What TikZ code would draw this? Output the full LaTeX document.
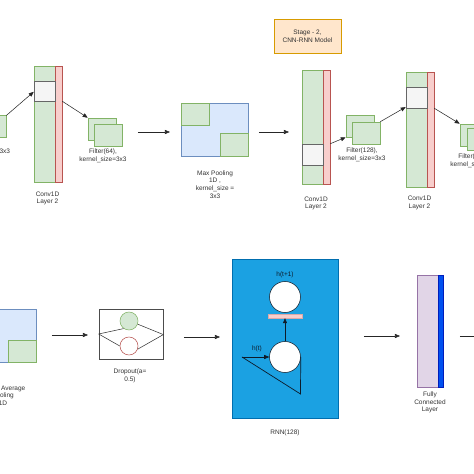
\documentclass[tikz,border=0pt]{standalone}
\usepackage{fontspec}
\setmainfont{Liberation Sans}
\usetikzlibrary{arrows.meta}
\definecolor{grfill}{HTML}{D5E8D4}
\definecolor{grline}{HTML}{82B366}
\definecolor{pkfill}{HTML}{F8CECC}
\definecolor{pkline}{HTML}{B85450}
\definecolor{blfill}{HTML}{DAE8FC}
\definecolor{blline}{HTML}{6C8EBF}
\definecolor{orfill}{HTML}{FFE6CC}
\definecolor{orline}{HTML}{D79B00}
\definecolor{wtfill}{HTML}{F5F5F5}
\definecolor{wtline}{HTML}{666666}
\definecolor{pufill}{HTML}{E1D5E7}
\definecolor{puline}{HTML}{9673A6}
\definecolor{dbfill}{HTML}{0050EF}
\definecolor{dbline}{HTML}{001DBC}
\definecolor{rnnfill}{HTML}{1BA1E2}
\definecolor{rnnline}{HTML}{006EAF}
\definecolor{cell}{HTML}{0D1B2A}
\definecolor{txt}{HTML}{333333}
\newcommand{\lblfont}{\fontsize{3.7}{4.4}\selectfont}

\begin{document}
\begin{tikzpicture}[scale=0.2]
\tikzstyle{every node}+=[inner sep=0pt, font=\lblfont, text=txt]
\tikzstyle{lay}=[draw=grline, fill=grfill, line width=0.3pt, minimum width=4.2mm]
\tikzstyle{bias}=[draw=pkline, fill=pkfill, line width=0.3pt, minimum width=1.3mm, anchor=west]
\tikzstyle{win}=[draw=wtline, fill=wtfill, line width=0.3pt, minimum width=4.2mm, minimum height=4.2mm]
\tikzstyle{filt}=[draw=grline, fill=grfill, line width=0.3pt, minimum width=5.6mm, minimum height=4.4mm]
\tikzstyle{pool}=[draw=blline, fill=blfill, line width=0.3pt, minimum width=13.4mm, minimum height=10.6mm]
\tikzstyle{unit}=[circle, line width=0.3pt, minimum size=3.6mm]
\tikzstyle{state}=[circle, draw=cell, fill=white, line width=0.3pt, minimum size=6.2mm]
\tikzstyle{lbl}=[align=center]
\tikzstyle{arr}=[draw=black!85, line width=0.3pt, -{Triangle[length=1mm,width=0.8mm]}]
\tikzstyle{wire}=[draw=black!80, line width=0.3pt]
\useasboundingbox (0,0) rectangle (47.4,-47.4);
\fill [white] (0,0) rectangle (47.4,-47.4);
\node [filt] (f0) at (-0.8,-12.65) {};
\node [lbl] (f0t) at (-1.35,-14.8) {Filter(32),\\kernel\_size=3x3};
\node [lay, minimum height=23.2mm] (c1) at (4.45,-12.4) {};
\node [bias, minimum height=23.2mm] (p1) at (c1.east) {};
\node [win, minimum height=4mm] (w1) at (4.45,-9.1) {};
\node [lbl] (c1t) at (4.75,-19.85) {Conv1D\\Layer 2};
\node [filt] (f64b) at (10.2,-12.9) {};
\node [filt] (f64f) at (10.8,-13.5) {};
\node [lbl] (f64t) at (10.3,-15.6) {Filter(64),\\kernel\_size=3x3};
\node [pool] (mp) at (21.45,-12.95) {};
\node [filt, anchor=north west] (mp1) at (mp.north west) {};
\node [filt, anchor=south east, minimum height=4.6mm] (mp2) at (mp.south east) {};
\node [lbl] (mpt) at (21.5,-18.45) {Max Pooling\\1D ,\\kernel\_size =\\3x3};
\node [draw=orline, fill=orfill, line width=0.3pt, minimum width=13.4mm, minimum height=6.8mm, align=center] (stage) at (30.75,-3.6) {Stage - 2,\\CNN-RNN Model};
\node [lay, minimum height=22.8mm] (c2) at (31.25,-12.7) {};
\node [bias, minimum height=22.8mm] (p2) at (c2.east) {};
\node [win] (w2) at (31.25,-15.45) {};
\node [lbl] (c2t) at (31.6,-20.35) {Conv1D\\Layer 2};
\node [filt] (f128b) at (36.0,-12.6) {};
\node [filt] (f128f) at (36.6,-13.3) {};
\node [lbl] (f128t) at (36.2,-15.45) {Filter(128),\\kernel\_size=3x3};
\node [lay, minimum height=23mm] (c3) at (41.65,-12.95) {};
\node [bias, minimum height=23mm] (p3) at (c3.east) {};
\node [win] (w3) at (41.65,-9.75) {};
\node [lbl] (c3t) at (41.95,-20.3) {Conv1D\\Layer 2};
\node [filt] (f256b) at (47.4,-13.5) {};
\node [filt] (f256f) at (48.1,-13.9) {};
\node [lbl] (f256t) at (47.4,-16.05) {Filter(256),\\kernel\_size=3x3};
\coordinate (a2s) at (13.8,-13.2);
\coordinate (a2e) at (17.0,-13.2);
\coordinate (a3s) at (25.9,-13.2);
\coordinate (a3e) at (28.9,-13.2);
\draw [arr] ([yshift=-0.3mm]f0.north east) -- ([yshift=-0.8mm]w1.west);
\draw [arr] (p1.east |- w1.south) -- (f64b.north west);
\draw [arr] (a2s) -- (a2e);
\draw [arr] (a3s) -- (a3e);
\draw [arr] (p2.east |- w2.north) -- (f128b.south west);
\draw [arr] (f128f.north east) -- ([yshift=1.2mm]w3.south west);
\draw [arr] (p3.east |- w3.south) -- (f256b.north west);
\node [pool] (gap) at (0.25,-33.55) {};
\node [filt, anchor=south east] (gap1) at (gap.south east) {};
\node [lbl] (gapt) at (0.3,-39.55) {Global Average\\Pooling\\1D};
\node [draw=black!70, fill=white, line width=0.4pt, minimum width=12.8mm, minimum height=10mm] (drop) at (13.1,-33.4) {};
\node [unit, draw=grline, fill=grfill] (dg) at (12.9,-32.1) {};
\node [unit, draw=pkline, fill=white] (dr) at (12.9,-34.6) {};
\coordinate (de) at ([yshift=-0.6mm]drop.east);
\draw [wire] (drop.west) -- (dg.235);
\draw [wire] (drop.west) -- (dr.180);
\draw [wire] (de) -- (dg.340);
\draw [wire] (de) -- (dr.340);
\node [lbl] (dropt) at (13.0,-37.55) {Dropout(a=\\0.5)};
\node [draw=rnnline, fill=rnnfill, line width=0.3pt, minimum width=21.2mm, minimum height=31.8mm] (rnn) at (28.5,-33.85) {};
\node [state] (ht1) at (28.5,-29.7) {};
\node [text=cell] (ht1t) at (28.5,-27.5) {h(t+1)};
\node [draw=pkline!50, fill=pkfill, line width=0.2pt, minimum width=6.8mm, minimum height=0.8mm] (bar) at (28.5,-31.6) {};
\node [state] (ht) at (28.5,-35.7) {};
\node [text=cell] (htt) at (25.7,-34.9) {h(t)};
\coordinate (tl) at (24.2,-35.7);
\coordinate (tr) at (30.05,-39.4);
\draw [arr, draw=cell] (ht.north) -- (bar.south);
\draw [arr, draw=cell] (tl) -- (ht.west);
\draw [cell, line width=0.4pt] (tl) -- (tr) -- (ht.east);
\node [lbl] (rnnt) at (28.5,-43.3) {RNN(128)};
\node [draw=puline, fill=pufill, line width=0.3pt, minimum width=4.2mm, minimum height=22.4mm] (fc) at (42.75,-33.1) {};
\node [draw=dbline, fill=dbfill, line width=0.3pt, minimum width=1mm, minimum height=22.4mm, anchor=west] (fcb) at (fc.east) {};
\node [lbl] (fct) at (43.0,-40.25) {Fully\\Connected\\Layer};
\coordinate (b1s) at (5.2,-33.5);
\coordinate (b1e) at (8.8,-33.5);
\coordinate (b2s) at (18.4,-33.7);
\coordinate (b2e) at (22.0,-33.7);
\coordinate (b3s) at (36.4,-33.6);
\coordinate (b3e) at (40.0,-33.6);
\coordinate (b4s) at (46.0,-33.6);
\coordinate (b4e) at (49.0,-33.6);
\draw [arr] (b1s) -- (b1e);
\draw [arr] (b2s) -- (b2e);
\draw [arr] (b3s) -- (b3e);
\draw [arr] (b4s) -- (b4e);
\end{tikzpicture}
\end{document}
